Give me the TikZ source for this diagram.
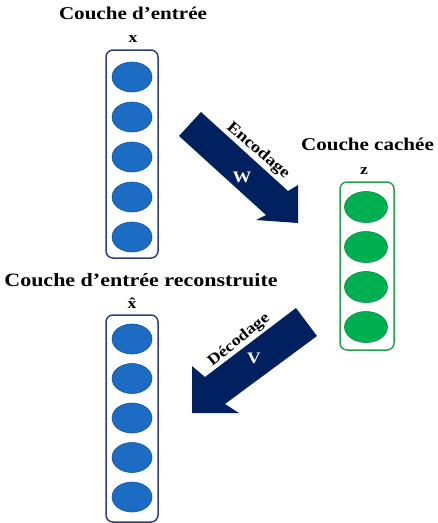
\documentclass[tikz,border=0pt]{standalone}
\usepackage{fontspec}
\setmainfont{Liberation Serif}[FakeStretch=1.17]
\usetikzlibrary{shapes.geometric}
\definecolor{navy}{RGB}{0,32,96}
\definecolor{boxblue}{RGB}{47,64,120}
\definecolor{nodeblue}{RGB}{28,108,196}
\definecolor{nodeblueedge}{RGB}{22,84,160}
\definecolor{nodegreen}{RGB}{0,176,80}
\definecolor{nodegreenedge}{RGB}{0,140,64}
\definecolor{boxgreen}{RGB}{40,160,80}
\begin{document}
\begin{tikzpicture}[x=1pt,y=-1pt,
  layerbox/.style={draw=#1, line width=1.5pt, rounded corners=7pt, fill=white, inner sep=0pt},
  bluenode/.style={ellipse, fill=nodeblue, draw=nodeblueedge, line width=0.6pt, minimum width=40pt, minimum height=30pt, inner sep=0pt},
  greennode/.style={ellipse, fill=nodegreen, draw=nodegreenedge, line width=0.6pt, minimum width=43pt, minimum height=31pt, inner sep=0pt},
  title/.style={font=\fontsize{18}{20}\selectfont\bfseries, anchor=base, inner sep=0pt},
  vec/.style={font=\fontsize{15}{17}\selectfont\bfseries, anchor=base, inner sep=0pt},
  blockarrow/.style={fill=navy},
  arrowlabel/.style={font=\fontsize{#1}{18}\selectfont\bfseries, inner sep=0pt},
  weight/.style={font=\fontsize{16}{18}\selectfont\bfseries, text=white, inner sep=0pt}]
\useasboundingbox (0,0) rectangle (438,523);

% input layer
\node[title] (tin) at (133,19.5) {Couche d’entrée};
\node[vec] (vx) at (133,42) {x};
\node[layerbox=boxblue, minimum width=52pt, minimum height=208pt] (inbox) at (132,154) {};
\foreach \i in {0,...,4}{
  \node[bluenode] (in\i) at (132,{77+40*\i}) {};
}

% hidden layer
\node[title] (thid) at (367.5,150.5) {Couche cachée};
\node[vec] (vz) at (364,174) {z};
\node[layerbox=boxgreen, minimum width=54pt, minimum height=168pt] (hidbox) at (367,266) {};
\foreach \i in {0,...,3}{
  \node[greennode] (h\i) at (366,{207+40*\i}) {};
}

% reconstructed layer
\node[title, font=\fontsize{18.8}{21}\selectfont\bfseries] (tout) at (141,286) {Couche d’entrée reconstruite};
\node[vec] (vxh) at (132,308) {\^{x}};
\node[layerbox=boxblue, minimum width=52pt, minimum height=207pt] (outbox) at (132,418.5) {};
\foreach \i in {0,...,4}{
  \node[bluenode] (out\i) at (132,{339+39.5*\i}) {};
}

% encoding arrow
\fill[blockarrow] (179,136) -- (201,112) -- (288,191) -- (298,185) -- (298,223) -- (256,220) -- (266,215) -- cycle;
\node[arrowlabel=16, rotate=-41] (enc) at (258,151) {Encodage};
\node[weight] (w) at (242,177) {W};

% decoding arrow
\fill[blockarrow] (296,308) -- (317,336) -- (225,404) -- (239,413) -- (192,413) -- (192,366) -- (205,377) -- cycle;
\node[arrowlabel=15.5, rotate=39] (dec) at (239,340) {Décodage};
\node[weight] (v) at (254,358) {V};
\end{tikzpicture}
\end{document}
